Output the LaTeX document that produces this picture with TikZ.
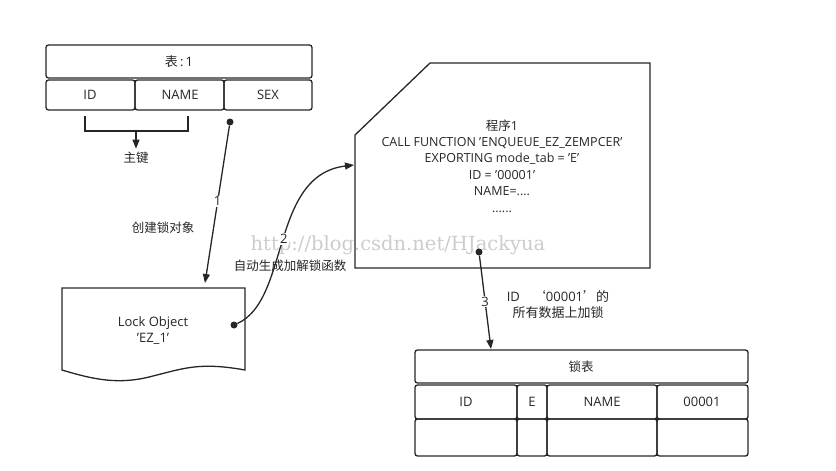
\documentclass[tikz,border=0pt]{standalone}
\usepackage{fontspec}
\setmainfont{Open Sans}
\newfontfamily\cjk{Noto Sans CJK SC}
\newfontfamily\wm{DejaVu Serif}
\usetikzlibrary{arrows.meta}
\begin{document}
\begin{tikzpicture}[x=1pt,y=-1pt,
  cell/.style={draw=black!85,line width=1.3pt,rounded corners=2.5pt},
  lbl/.style={font=\fontsize{13}{16}\selectfont,text=black!85},
  clbl/.style={font=\cjk\fontsize{12.5}{16}\selectfont,text=black!85},
  conn/.style={draw=black!85,line width=1.3pt,-{Triangle[length=9pt,width=7pt]}},
  dot/.style={circle,fill=black!85,inner sep=0pt,minimum size=7pt}]
\useasboundingbox (0,0) rectangle (836,471);
% table 1
\draw[cell] (46,45) rectangle (312,78);
\node[lbl] (t1) at (179,62) {{\cjk 表}\,:\,1};
\draw[cell] (46,80) rectangle (135,110); \node[lbl] (c1) at (90,95) {ID};
\draw[cell] (135,80) rectangle (224,110); \node[lbl] (c2) at (180,95) {NAME};
\draw[cell] (224,80) rectangle (312,110); \node[lbl] (c3) at (268,95) {SEX};
% bracket
\coordinate (bl) at (85,116); \coordinate (br) at (188,116);
\coordinate (bm) at (136,131);
\draw[draw=black!85,line width=1.3pt] (bl) -- (85,131) -- (188,131) -- (br);
\node[clbl] (pk) at (136,158) {主键};
\draw[conn] (bm) -- (pk.north);
% lock object
\draw[draw=black!85,line width=1.3pt] (62,288) -- (245,288) -- (245,370)
  .. controls (200,362) and (185,368) .. (153,376)
  .. controls (120,385) and (95,380) .. (62,370) -- cycle;
\node[lbl,align=center] (lo) at (153,331) {Lock Object\\'EZ\_1'};
% program
\draw[draw=black!85,line width=1.3pt] (355,135) -- (430,63) -- (650,63) -- (650,268) -- (355,268) -- cycle;
\node[lbl,align=center,inner sep=0pt,font=\fontsize{12.5}{16.4}\selectfont] (prog) at (502,166) {{\cjk 程序}1\\CALL FUNCTION 'ENQUEUE\_EZ\_ZEMPCER'\\EXPORTING mode\_tab = 'E'\\ID = '00001'\\NAME=....\\......};
\coordinate (pin) at (354,165);
% lock table
\draw[cell] (415,350) rectangle (748,383); \node[clbl] (lt) at (581,367) {锁表};
\draw[cell] (415,385) rectangle (517,419); \node[lbl] (l1) at (466,402) {ID};
\draw[cell] (517,385) rectangle (547,419); \node[lbl] (l2) at (532,402) {E};
\draw[cell] (547,385) rectangle (657,419); \node[lbl] (l3) at (602,402) {NAME};
\draw[cell] (657,385) rectangle (748,419); \node[lbl] (l4) at (702,402) {00001};
\draw[cell] (415,419) rectangle (517,456);
\draw[cell] (517,419) rectangle (547,456);
\draw[cell] (547,419) rectangle (657,456);
\draw[cell] (657,419) rectangle (748,456);
\coordinate (ltin) at (491,349);
% watermark
\node[font=\wm\fontsize{19.5}{22}\selectfont,text=black!20] (wmk) at (398,245) {http://blog.csdn.net/HJackyua};
% connectors
\node[dot] (d1) at (230,122) {};
\coordinate (lin) at (205,283);
\draw[conn] (d1) -- (lin) node[pos=0.48,fill=white,inner sep=1pt,lbl] (n1) {1};
\node[clbl] (lab1) at (163,228) {创建锁对象};
\node[dot] (d2) at (234,325) {};
\draw[conn] (d2) .. controls (290,300) and (270,175) .. (pin) node[pos=0.5,fill=white,inner sep=1pt,lbl] (n2) {2};
\node[clbl] (lab2) at (290,266) {自动生成加解锁函数};
\node[dot] (d3) at (479,252) {};
\draw[conn] (d3) -- (ltin) node[pos=0.49,fill=white,inner sep=1pt,lbl] (n3) {3};
\node[lbl,align=center] (lab3) at (558,305) {ID\quad{\cjk ‘}00001{\cjk ’的}\\{\cjk 所有数据上加锁}};
\end{tikzpicture}
\end{document}
